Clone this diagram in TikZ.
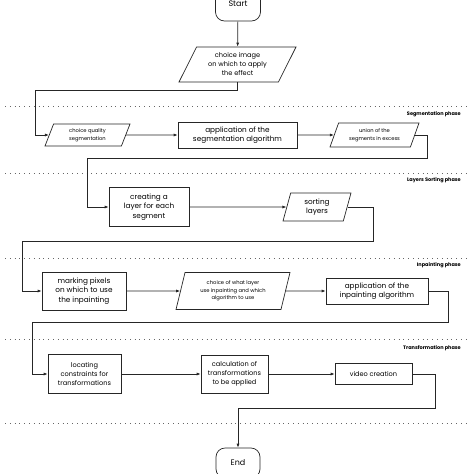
\documentclass[tikz,border=0pt]{standalone}
\usepackage{fontspec}
\setmainfont{Poppins}
\usetikzlibrary{shapes.geometric,arrows.meta}

\tikzset{
  flow/.style={draw=black!85, line width=0.7pt, align=center, inner sep=1pt},
  procbox/.style={flow, rectangle},
  iobox/.style={flow, trapezium, trapezium left angle=60, trapezium right angle=120,
    trapezium stretches body=true},
  termbox/.style={flow, rounded corners=9pt, font=\fontsize{8}{10}\selectfont},
  link/.style={draw=black!85, line width=0.7pt, -{Latex[length=4pt,width=3pt]}},
  phaseline/.style={draw=black!60, line width=0.8pt, dash pattern=on 0.8pt off 4pt},
  phaselabel/.style={anchor=east, inner sep=0pt, font=\fontsize{5}{6}\selectfont\bfseries},
  big/.style={font=\fontsize{7.3}{9.6}\selectfont},
  mid/.style={font=\fontsize{6.6}{9}\selectfont},
  small/.style={font=\fontsize{5.2}{7.5}\selectfont}
}

\begin{document}
\begin{tikzpicture}[x=1pt,y=-1pt]
\useasboundingbox (0,0) rectangle (474,474);
\clip (0,0) rectangle (474,474);

% phases
\draw[phaseline] (5,106) -- (466,106);
\draw[phaseline] (5,173) -- (466,173);
\draw[phaseline] (5,258) -- (466,258);
\draw[phaseline] (5,339) -- (466,339);
\draw[phaseline] (5,423) -- (466,423);
\node[phaselabel] (ph1) at (461,114) {Segmentation phase};
\node[phaselabel] (ph2) at (461,180) {Layers Sorting phase};
\node[phaselabel] (ph3) at (461,265) {Inpainting phase};
\node[phaselabel] (ph4) at (461,348) {Transformation phase};

% nodes
\node[termbox, minimum width=45pt, minimum height=34pt] (start) at (238,4) {Start};
\node[iobox, mid, trapezium left angle=55, trapezium right angle=125,
  minimum width=117pt, minimum height=35pt] (img) at (237.5,64.5)
  {choice image\\on which to apply\\the effect};

\node[iobox, small, minimum width=85pt, minimum height=22pt] (qual) at (87.5,135)
  {choice quality\\segmentation};
\node[procbox, big, minimum width=119pt, minimum height=26pt] (segalg) at (237.5,135)
  {application of the\\segmentation algorithm};
\node[iobox, small, minimum width=89pt, minimum height=24pt] (union) at (374.5,135)
  {union of the\\segments in excess};

\node[procbox, big, minimum width=80pt, minimum height=39pt] (layer) at (149,207)
  {creating a\\layer for each\\segment};
\node[iobox, big, trapezium left angle=68, trapezium right angle=112,
  minimum width=68pt, minimum height=28pt] (sort) at (317,207) {sorting\\layers};

\node[procbox, big, minimum width=84pt, minimum height=38pt] (mark) at (84,291)
  {marking pixels\\on which to use\\the inpainting};
\node[iobox, small, trapezium left angle=68, trapezium right angle=112,
  minimum width=114pt, minimum height=37pt] (which) at (233,291)
  {choice of what layer\\use inpainting and which\\algorithm to use};
\node[procbox, big, minimum width=102pt, minimum height=26pt] (inalg) at (377,291)
  {application of the\\inpainting algorithm};

\node[procbox, mid, minimum width=73pt, minimum height=39pt] (locate) at (84.5,374)
  {locating\\constraints for\\transformations};
\node[procbox, mid, minimum width=67pt, minimum height=38pt] (calc) at (234.5,374)
  {calculation of\\transformations\\to be applied};
\node[procbox, mid, minimum width=77pt, minimum height=21pt] (video) at (373.5,374)
  {video creation};

\node[termbox, minimum width=44pt, minimum height=30pt] (end) at (238,463) {End};

% bends
\coordinate (b1) at (35,90);
\coordinate (b2) at (427,158);
\coordinate (b3) at (87,158);
\coordinate (b4) at (373,241);
\coordinate (b5) at (22,241);
\coordinate (b6) at (448,322);
\coordinate (b7) at (32,322);
\coordinate (b8) at (435,408);
\coordinate (b9) at (238,408);

% connectors
\draw[link] (start) -- (img);
\draw[link] (img.south) |- (b1) |- (qual.west);
\draw[link] (qual.east) -- (segalg.west);
\draw[link] (segalg.east) -- (union.west);
\draw[link] (union.east) -| (b2) -- (b3) |- (layer.west);
\draw[link] (layer.east) -- (sort.west);
\draw[link] (sort.east) -| (b4) -- (b5) |- (mark.west);
\draw[link] (mark.east) -- (which.west);
\draw[link] (which.east) -- (inalg.west);
\draw[link] (inalg.east) -| (b6) -- (b7) |- (locate.west);
\draw[link] (locate.east) -- (calc.west);
\draw[link] (calc.east) -- (video.west);
\draw[link] (video.east) -| (b8) -- (b9) -- (end.north);
\end{tikzpicture}
\end{document}
